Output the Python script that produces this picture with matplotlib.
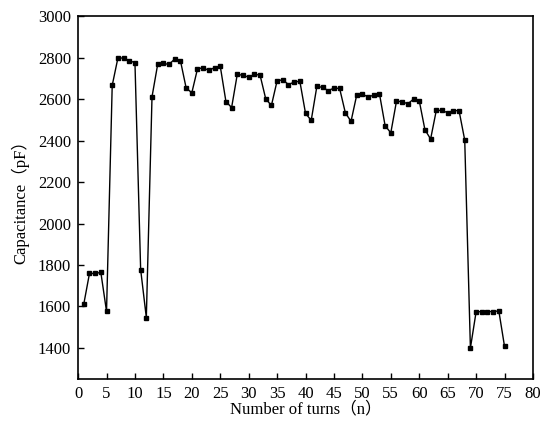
import matplotlib
matplotlib.use("Agg")
import matplotlib.pyplot as plt

# Data
turns = list(range(1, 76))
capacitance = [1611, 1759, 1759, 1764, 1576, 2667, 2799, 2799, 2787, 2776,
               1778, 1546, 2612, 2769, 2773, 2768, 2795, 2786, 2655, 2631,
               2747, 2752, 2739, 2753, 2760, 2589, 2560, 2721, 2715, 2707,
               2720, 2717, 2602, 2570, 2689, 2694, 2671, 2683, 2687, 2532,
               2498, 2663, 2657, 2642, 2654, 2652, 2535, 2493, 2620, 2625,
               2611, 2620, 2627, 2472, 2438, 2591, 2588, 2578, 2601, 2593,
               2453, 2408, 2546, 2546, 2535, 2545, 2545, 2403, 1399, 1573,
               1575, 1575, 1575, 1578, 1407]
x_ticks = list(range(0, 81, 5))
y_ticks = list(range(1400, 3001, 200))

plt.rcParams['font.family'] = ['Liberation Serif', 'Noto Sans CJK SC']
plt.rcParams['font.size'] = 12

fig = plt.figure(figsize=(5.5, 4.32), dpi=100)
ax = fig.add_axes([0.142, 0.123, 0.827, 0.839])

ax.plot(turns, capacitance, 'ks-', markersize=3.5, linewidth=1)

ax.set_xlim(0, 80)
ax.set_ylim(1250, 3000)
ax.set_xticks(x_ticks)
ax.set_yticks(y_ticks)
ax.tick_params(direction='in', length=4, width=1, pad=5)
for s in ax.spines.values():
    s.set_linewidth(1.2)

ax.set_xlabel('Number of turns（n）', labelpad=0)
ax.set_ylabel('Capacitance（pF）', labelpad=6)

fig.savefig('out.png', dpi=100)
